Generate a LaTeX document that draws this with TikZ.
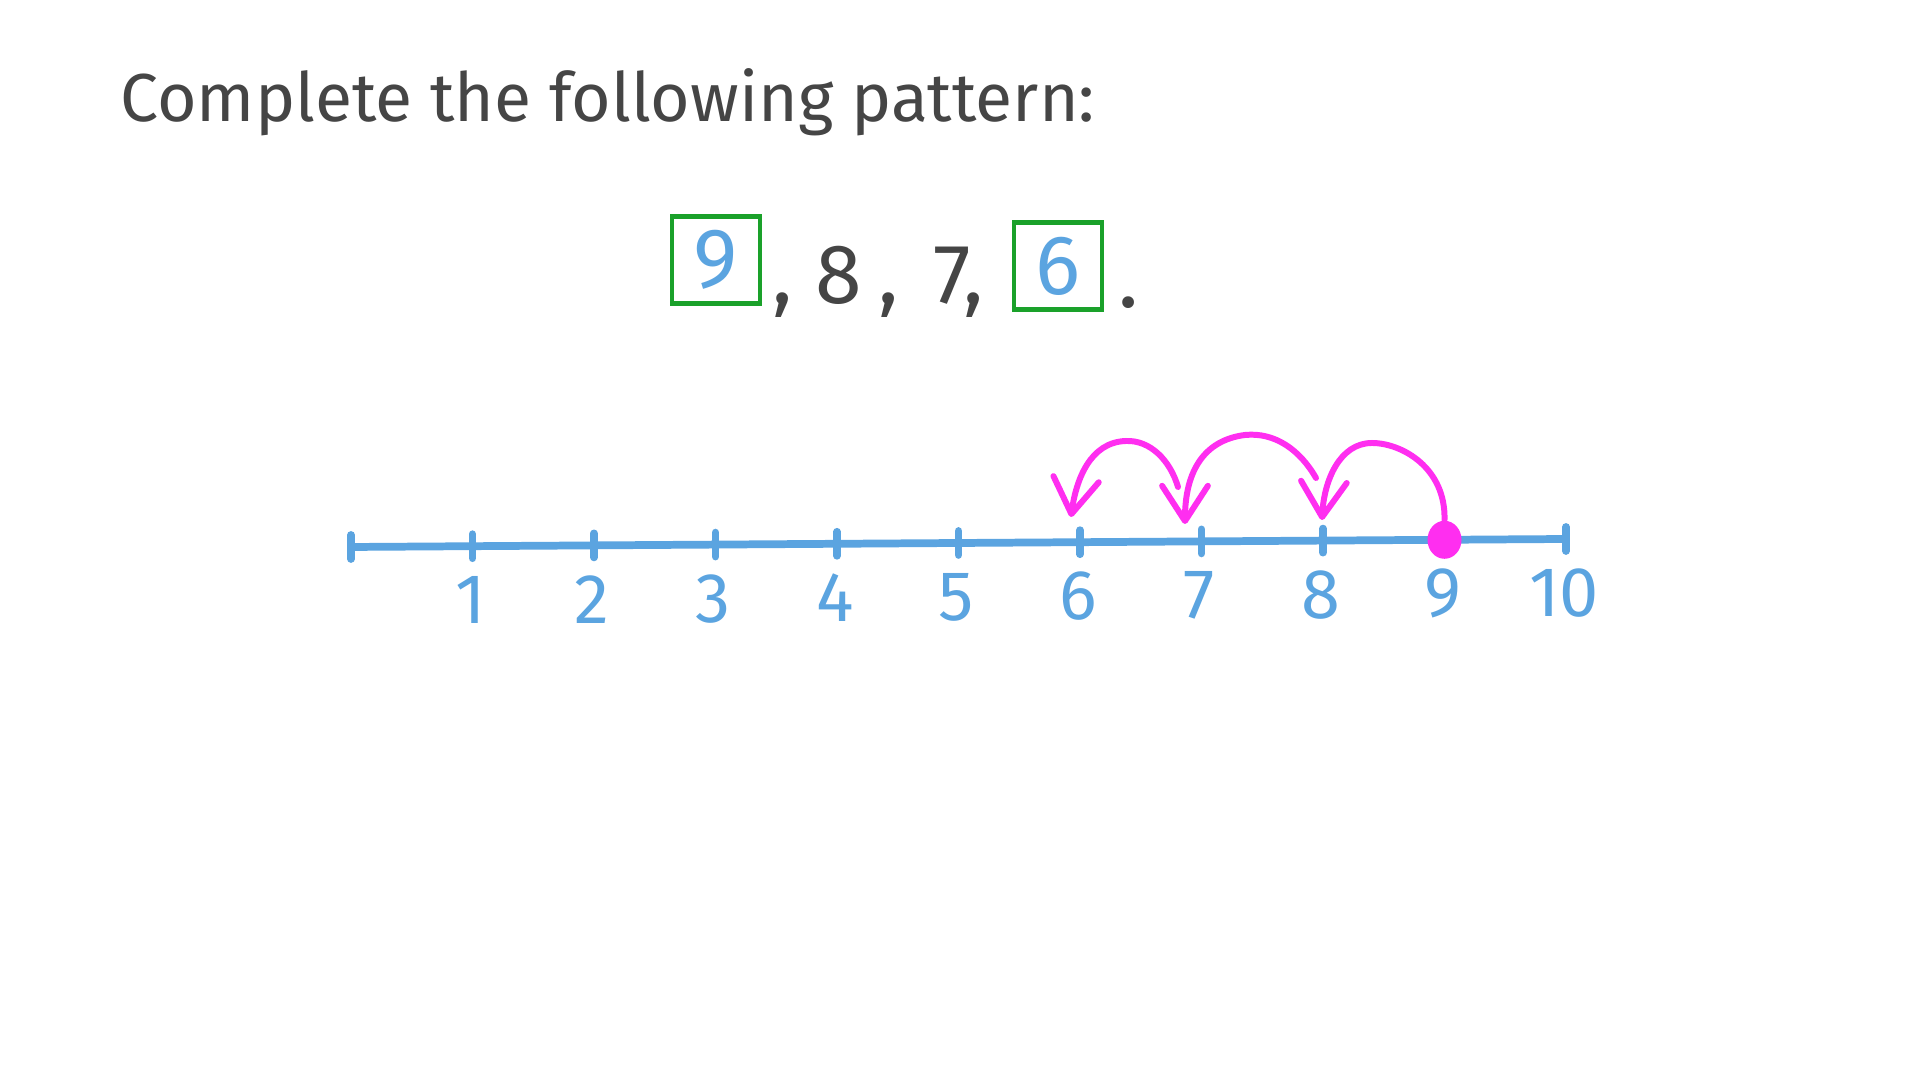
\documentclass[tikz,border=0pt]{standalone}
\usepackage{fontspec}
\setmainfont{Fira Sans}
\usetikzlibrary{shapes.geometric,arrows.meta,positioning,calc}
\definecolor{inkgray}{HTML}{454545}
\definecolor{lineblue}{HTML}{5BA4E0}
\definecolor{hoppink}{HTML}{FF2EF0}
\definecolor{boxgreen}{HTML}{1AA12A}
\tikzstyle{axis} = [draw=lineblue, line width=2.2pt, line cap=round]
\tikzstyle{numlabel} = [text=lineblue, font=\fontsize{20}{24}\selectfont, inner sep=0pt]
\tikzstyle{ansbox} = [draw=boxgreen, line width=1.2pt, minimum width=0.88cm, minimum height=0.87cm, inner sep=0pt, text=lineblue, font=\fontsize{24}{28}\selectfont]
\tikzstyle{hop} = [draw=hoppink, line width=1.7pt, line cap=round, -{Straight Barb[length=10pt, width=13pt, round]}]

\begin{document}
\begin{tikzpicture}[x=0.01cm, y=-0.01cm]
  \useasboundingbox[fill=white] (0,0) rectangle (1920,1080);

  \node[anchor=base west, text=inkgray, inner sep=0pt, font=\fontsize{19.3}{23}\selectfont] (title) at (120,122) {Complete the following pattern:};

  % the pattern
  \node[ansbox] (box9) at (716,260) {9};
  \node[anchor=base west, text=inkgray, inner sep=0pt, font=\fontsize{24}{28}\selectfont] (seq) at (772,304) {, 8\hspace{0.2em}, \hspace{0.15em}7,};
  \node[ansbox] (box6) at (1058,266) {6};
  \node[anchor=base west, text=inkgray, inner sep=0pt, font=\fontsize{24}{28}\selectfont] (stop) at (1118,308) {.};

  % number line
  \foreach \i in {0,...,10}
  \coordinate (t\i) at ({351+121.5*\i},{547-0.8*\i});

  \draw[axis] (t0) -- (t10);

  \foreach \i in {0,...,10}
  \draw[axis] (t\i) ++(0,-12) -- ++(0,24);

  \foreach \i in {1,...,10}
  \path (t\i) ++(-2,54) node[numlabel] (n\i) {\i};

  \node[ellipse, fill=hoppink, minimum width=0.34cm, minimum height=0.38cm, inner sep=0pt] (dot9) at (t9) {};

  % hops back
  \coordinate (tip8) at (1322,520);
  \coordinate (tip7) at (1185,524);
  \coordinate (tip6) at (1071,517);
  \coordinate (from8) at (1316,478);
  \coordinate (from7) at (1178,487);

  \draw[hop] (dot9.north) .. controls (1446,468) and (1402,443) .. (1372,443) .. controls (1340,443) and (1324,480) .. (tip8);
  \draw[hop] (from8) .. controls (1300,450) and (1275,432) .. (1245,435) .. controls (1205,440) and (1185,470) .. (tip7);
  \draw[hop] (from7) .. controls (1170,460) and (1150,440) .. (1126,441) .. controls (1090,442) and (1076,480) .. (tip6);

\end{tikzpicture}
\end{document}
